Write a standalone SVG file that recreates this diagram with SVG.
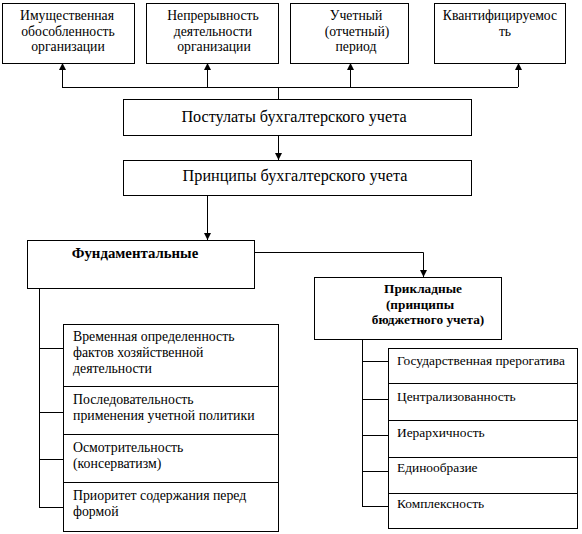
<svg xmlns="http://www.w3.org/2000/svg" width="582" height="534" viewBox="0 0 582 534">
<style>
  .box { fill: #fff; stroke: #000; stroke-width: 1; }
  .ln { fill: none; stroke: #000; stroke-width: 1; }
  text { font-family: "Liberation Serif", "Times New Roman", serif; fill: #000; }
  .top { font-size: 13.7px; text-anchor: middle; }
  .main { font-size: 16.2px; text-anchor: middle; }
  .fund { font-size: 14.8px; font-weight: bold; text-anchor: middle; }
  .prk { font-size: 13.3px; font-weight: bold; text-anchor: middle; }
  .ll { font-size: 13.8px; }
  .rl { font-size: 13.4px; }
</style>
<defs>
  <marker id="arr" markerUnits="userSpaceOnUse" markerWidth="8" markerHeight="8" refX="7" refY="3.5" orient="auto">
    <path d="M0,0 L7,3.5 L0,7 z" fill="#000"/>
  </marker>
</defs>
<rect width="582" height="534" fill="#fff"/>

<g id="connectors">
  <path class="ln" d="M62,87.5 H518"/>
  <path class="ln" d="M62.5,87 V63" marker-end="url(#arr)"/>
  <path class="ln" d="M207.5,87 V63" marker-end="url(#arr)"/>
  <path class="ln" d="M350.5,87 V63" marker-end="url(#arr)"/>
  <path class="ln" d="M518.5,87 V63" marker-end="url(#arr)"/>
  <path class="ln" d="M278.5,87 V99"/>
  <path class="ln" d="M278.5,135 V160" marker-end="url(#arr)"/>
  <path class="ln" d="M207.5,195 V240" marker-end="url(#arr)"/>
  <path class="ln" d="M255,252.5 H423.5 V277" marker-end="url(#arr)"/>
  <path class="ln" d="M39.5,288 V507.5 M39,348.5 H63 M39,412.5 H63 M39,459.5 H63 M39,507.5 H63"/>
  <path class="ln" d="M362.5,339 V506.5 M362,361.5 H388 M362,399.5 H388 M362,435.5 H388 M362,471.5 H388 M362,506.5 H388"/>
</g>

<g id="n-imush">
  <rect class="box" x="2.5" y="3.5" width="132" height="60"/>
  <text class="top" x="67" y="20">Имущественная</text>
  <text class="top" x="68" y="35.5">обособленность</text>
  <text class="top" x="68" y="51">организации</text>
</g>
<g id="n-nepr">
  <rect class="box" x="146.5" y="3.5" width="132" height="60"/>
  <text class="top" x="213" y="20">Непрерывность</text>
  <text class="top" x="213" y="35.5">деятельности</text>
  <text class="top" x="214" y="51">организации</text>
</g>
<g id="n-period">
  <rect class="box" x="290.5" y="3.5" width="118" height="60"/>
  <text class="top" x="356" y="20">Учетный</text>
  <text class="top" x="357" y="35.5">(отчетный)</text>
  <text class="top" x="356" y="51">период</text>
</g>
<g id="n-kvant">
  <rect class="box" x="434.5" y="3.5" width="131" height="60"/>
  <text class="top" x="500" y="20">Квантифицируемос</text>
  <text class="top" x="505" y="35.5">ть</text>
</g>
<g id="n-postulaty">
  <rect class="box" x="123.5" y="99.5" width="348" height="36"/>
  <text class="main" x="294" y="122">Постулаты бухгалтерского учета</text>
</g>
<g id="n-principy">
  <rect class="box" x="123.5" y="160.5" width="348" height="35"/>
  <text class="main" x="295" y="181">Принципы бухгалтерского учета</text>
</g>
<g id="n-fund">
  <rect class="box" x="27.5" y="240.5" width="227" height="48"/>
  <text class="fund" x="135" y="258">Фундаментальные</text>
</g>
<g id="n-prikl">
  <rect class="box" x="314.5" y="277.5" width="187" height="62"/>
  <text class="prk" x="423" y="293">Прикладные</text>
  <text class="prk" x="420" y="309">(принципы</text>
  <text class="prk" x="428" y="324">бюджетного учета)</text>
</g>
<g id="n-fund-list">
  <rect class="box" x="63.5" y="324.5" width="215" height="207"/>
  <path class="ln" d="M63,386.5 H278 M63,434.5 H278 M63,482.5 H278"/>
  <text class="ll" x="73" y="341">Временная определенность</text>
  <text class="ll" x="73" y="357">фактов хозяйственной</text>
  <text class="ll" x="73" y="373">деятельности</text>
  <text class="ll" x="73" y="404">Последовательность</text>
  <text class="ll" x="73" y="420">применения учетной политики</text>
  <text class="ll" x="73" y="452">Осмотрительность</text>
  <text class="ll" x="73" y="468">(консерватизм)</text>
  <text class="ll" x="73" y="500">Приоритет содержания перед</text>
  <text class="ll" x="73" y="516">формой</text>
</g>
<g id="n-prikl-list">
  <rect class="box" x="388.5" y="348.5" width="189" height="180"/>
  <path class="ln" d="M388,383.5 H577 M388,420.5 H577 M388,457.5 H577 M388,493.5 H577"/>
  <text class="rl" x="397" y="365">Государственная прерогатива</text>
  <text class="rl" x="397" y="401">Централизованность</text>
  <text class="rl" x="397" y="437">Иерархичность</text>
  <text class="rl" x="397" y="472">Единообразие</text>
  <text class="rl" x="397" y="508">Комплексность</text>
</g>
</svg>
